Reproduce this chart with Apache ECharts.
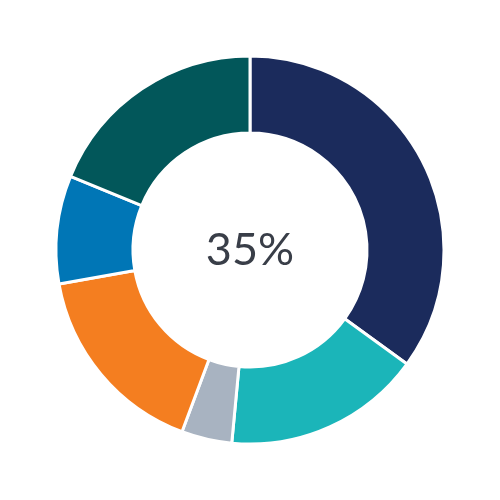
<!DOCTYPE html>
<html>
<head>
<meta charset="utf-8">
<script src="https://cdn.jsdelivr.net/npm/echarts@6/dist/echarts.min.js"></script>
<style>
  html, body { margin: 0; padding: 0; background: #fff; }
  #chart { width: 500px; height: 500px; }
</style>
</head>
<body>
<div id="chart"></div>
<script>
// share of each slice, clockwise from 12 o'clock
var names = ['A', 'B', 'C', 'D', 'E', 'F'];
var values = [35, 16.5, 4.2, 16.5, 9, 18.8];
var colors = ['#1b2b5c', '#1bb5b9', '#a8b3c1', '#f47e20', '#0076b6', '#02575a'];
var centerLabel = '35%';

var chart = echarts.init(document.getElementById('chart'));

var data = [];
for (var i = 0; i < values.length; i++) {
    data.push({ name: names[i], value: values[i], itemStyle: { color: colors[i] } });
}

var option = {
    animation: false,
    title: {
        text: centerLabel,
        left: 'center',
        top: 'middle',
        textStyle: {
            fontFamily: 'Lato',
            fontWeight: 'normal',
            fontSize: 45,
            color: '#393e48'
        }
    },
    series: [{
        type: 'pie',
        center: [250, 250],
        radius: [117, 194],
        startAngle: 90,
        clockwise: true,
        label: { show: false },
        labelLine: { show: false },
        itemStyle: {
            borderColor: '#ffffff',
            borderWidth: 3
        },
        data: data
    }]
};
chart.setOption(option);
</script>
</body>
</html>
